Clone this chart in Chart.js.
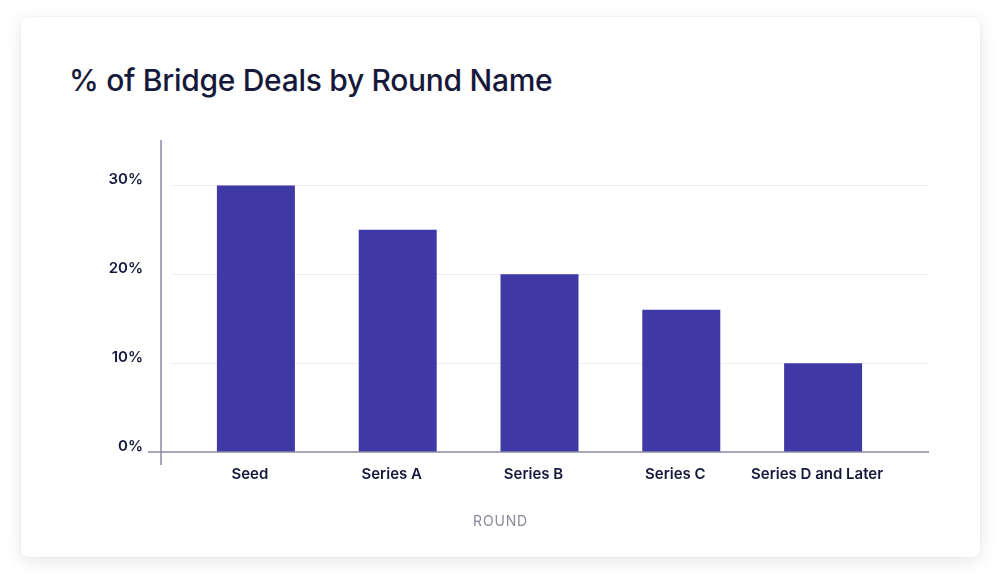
<!DOCTYPE html>
<html lang="en">
<head>
<meta charset="utf-8">
<script src="https://cdn.jsdelivr.net/npm/chart.js@4.4.1/dist/chart.umd.min.js"></script>
<style>
  html, body { margin: 0; padding: 0; background: #ffffff; }
  body { width: 1008px; height: 588px; position: relative; overflow: hidden; font-family: 'Inter', sans-serif; }
  .card {
    position: absolute; left: 21px; top: 17px; width: 959px; height: 540px;
    background: #fff; border-radius: 8px;
    box-shadow: 0 4px 18px rgba(20, 20, 50, 0.10), 0 0 2px rgba(20, 20, 50, 0.08);
  }
  .title {
    position: absolute; left: 48px; top: 45px; margin: 0;
    font-size: 30px; font-weight: 500; color: #17193b; letter-spacing: -0.3px;
  }
  .xtitle {
    position: absolute; left: 0; width: 959px; top: 495px; text-align: center;
    font-size: 14px; color: #8a8a99; letter-spacing: 0.8px;
  }
  canvas { position: absolute; left: 0; top: 0; }
</style>
</head>
<body>
<div class="card">
  <h1 class="title">% of Bridge Deals by Round Name</h1>
  <canvas id="chart" width="959" height="540"></canvas>
  <div class="xtitle">ROUND</div>
</div>
<script>
  const categories = ['Seed', 'Series A', 'Series B', 'Series C', 'Series D and Later'];
  const shares = [30, 25, 20, 16, 10];
  const yTicks = [0, 10, 20, 30];

  const navy = '#17193b';
  const axisColor = '#8b8ba3';

  // axis lines and grid run past the plot area, so draw them by hand
  const axisLines = {
    id: 'axisLines',
    beforeDatasetsDraw(chart) {
      const { ctx, chartArea, scales } = chart;
      const y = scales.y;
      ctx.save();
      ctx.strokeStyle = '#ececf2';
      ctx.lineWidth = 1;
      yTicks.filter(v => v > 0).forEach(v => {
        const py = Math.round(y.getPixelForValue(v)) + 0.5;
        ctx.beginPath();
        ctx.moveTo(chartArea.left - 13, py);
        ctx.lineTo(chartArea.right + 35, py);
        ctx.stroke();
      });
      ctx.restore();
    },
    afterDatasetsDraw(chart) {
      const { ctx, chartArea, scales } = chart;
      const y0 = scales.y.getPixelForValue(0);
      ctx.save();
      ctx.strokeStyle = axisColor;
      ctx.lineWidth = 1.5;
      ctx.beginPath();
      ctx.moveTo(chartArea.left - 37, y0);
      ctx.lineTo(chartArea.right + 35, y0);
      ctx.moveTo(chartArea.left - 24, chartArea.top - 1);
      ctx.lineTo(chartArea.left - 24, y0 + 13);
      ctx.stroke();
      ctx.restore();
    }
  };

  new Chart(document.getElementById('chart'), {
    type: 'bar',
    data: {
      labels: categories,
      datasets: [{
        data: shares,
        backgroundColor: '#3f39a6',
        borderWidth: 0,
        categoryPercentage: 1,
        barPercentage: 0.55
      }]
    },
    options: {
      responsive: false,
      animation: false,
      events: [],
      layout: { padding: { top: 124, right: 86, left: 0, bottom: 0 } },
      plugins: { legend: { display: false }, tooltip: { enabled: false } },
      scales: {
        x: {
          grid: { display: false, drawTicks: false },
          border: { display: false },
          afterFit(s) { s.height = 105; },
          ticks: {
            padding: 13,
            labelOffset: -6,
            color: navy,
            font: { family: 'Inter', size: 15, weight: '600' },
            maxRotation: 0
          }
        },
        y: {
          min: 0,
          max: 35,
          grid: { display: false, drawTicks: false },
          border: { display: false },
          afterFit(s) { s.width = 164; },
          afterBuildTicks(s) { s.ticks = yTicks.map(v => ({ value: v })); },
          ticks: {
            padding: 42,
            labelOffset: -6,
            color: navy,
            font: { family: 'Inter', size: 15, weight: '600' },
            callback: v => v + '%'
          }
        }
      }
    },
    plugins: [axisLines]
  });
</script>
</body>
</html>
